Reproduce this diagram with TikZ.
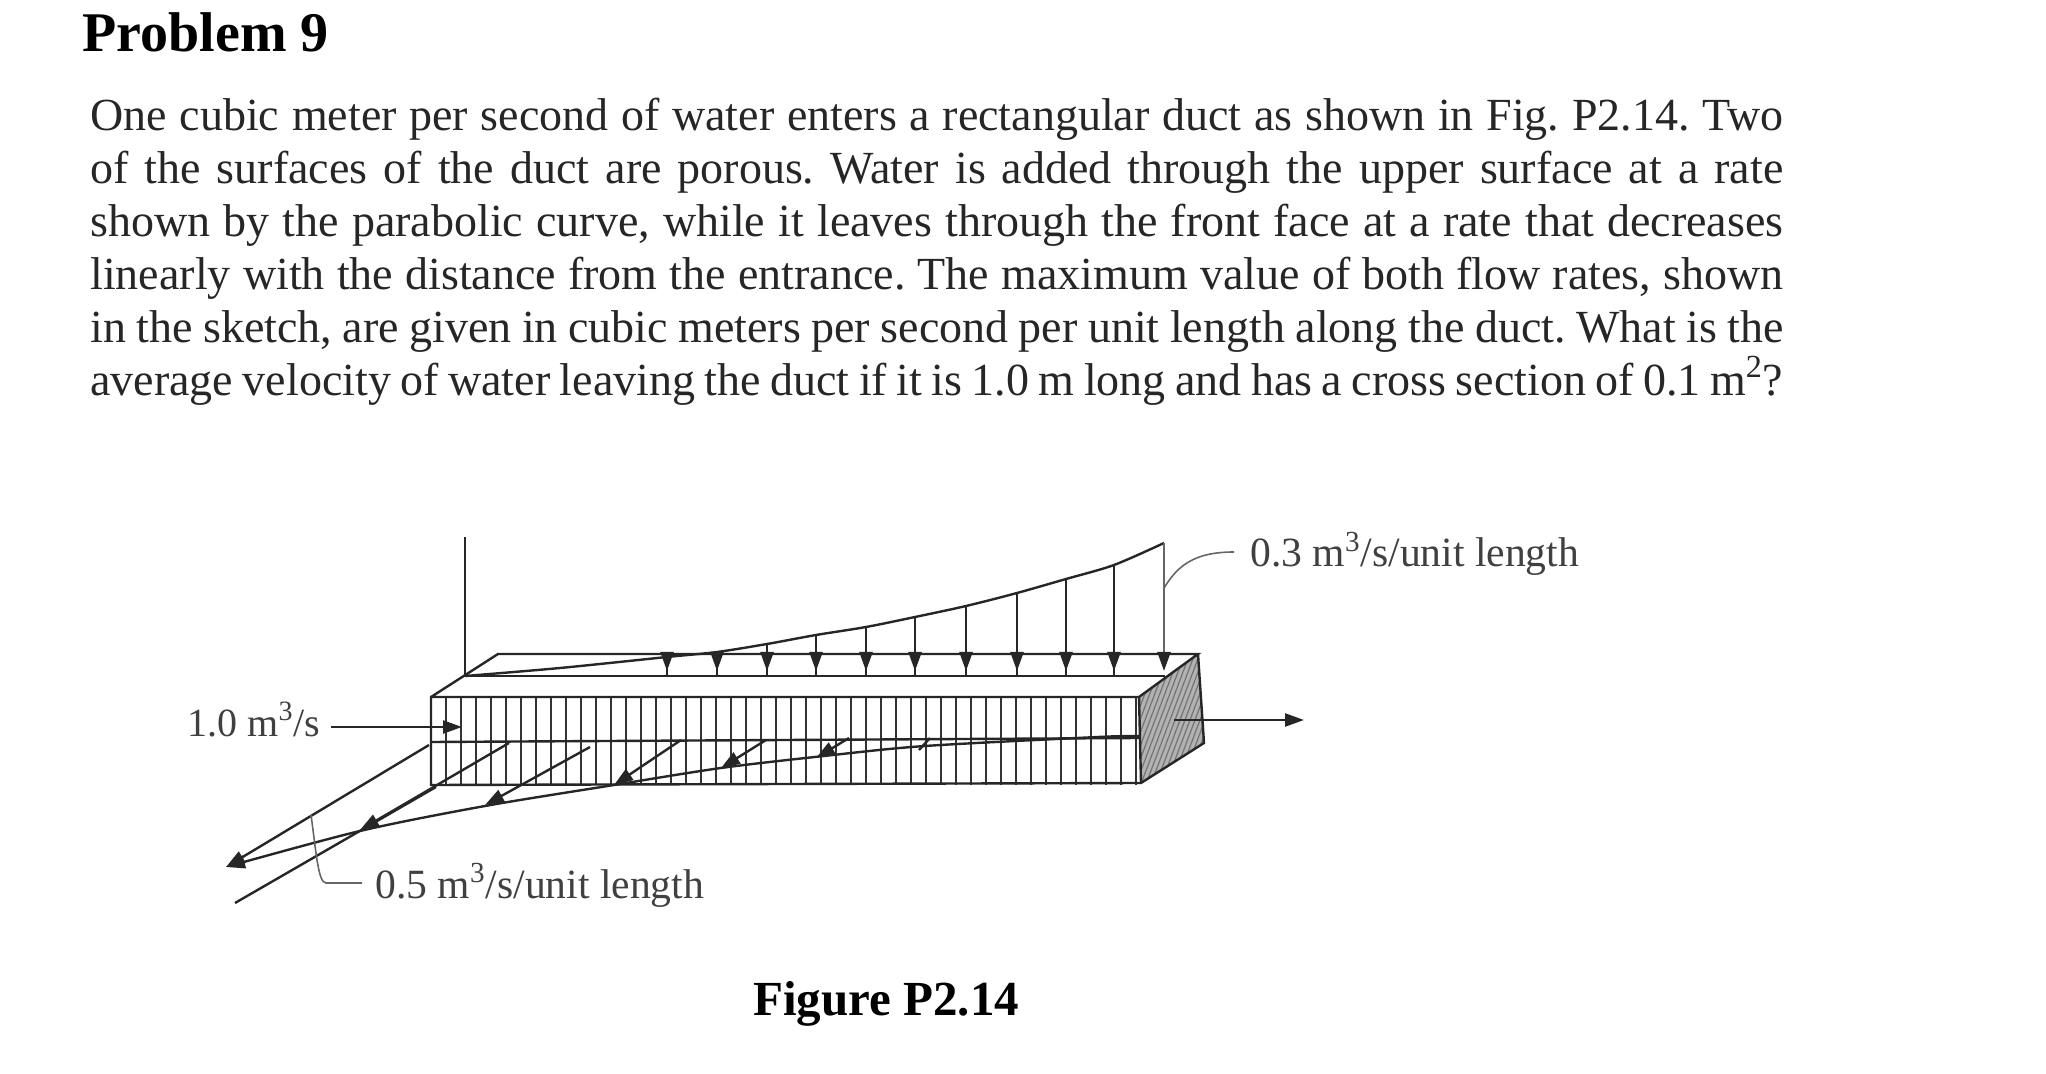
\documentclass[tikz,border=0pt]{standalone}
\usepackage{fontspec}
\setmainfont{Liberation Serif}
\usetikzlibrary{arrows.meta}
\frenchspacing
\newcommand{\paraline}[1]{\makebox[846.5pt][s]{#1}}
\tikzset{
  textline/.style={anchor=base west, inner sep=0pt, text=black!85, font=\fontsize{23}{26}\selectfont},
  figlabel/.style={anchor=base west, inner sep=0pt, text=black!75, font=\fontsize{20.8}{24}\selectfont},
  headline/.style={anchor=base west, inner sep=0pt, font=\bfseries\fontsize{28}{32}\selectfont},
  ductline/.style={draw=black!85, line width=1.2pt},
  hatchline/.style={draw=black!80, line width=1pt},
  flowarrow/.style={ductline, -{Stealth[length=9.5pt,width=6.5pt,inset=0pt]}},
  leaderline/.style={draw=black!60, line width=0.8pt}
}
\begin{document}
\begin{tikzpicture}[x=0.5pt, y=-0.5pt]
  \useasboundingbox (0,0) rectangle (2046,1074);
  \node (title)[headline] at (82,52) {Problem 9};
  \node (l1)[textline] at (90,131) {\paraline{One cubic meter per second of water enters a rectangular duct as shown in Fig. P2.14. Two}};
  \node (l2)[textline] at (90,184) {\paraline{of the surfaces of the duct are porous. Water is added through the upper surface at a rate}};
  \node (l3)[textline] at (90,237) {\paraline{shown by the parabolic curve, while it leaves through the front face at a rate that decreases}};
  \node (l4)[textline] at (90,290) {\paraline{linearly with the distance from the entrance. The maximum value of both flow rates, shown}};
  \node (l5)[textline] at (90,343) {\paraline{in the sketch, are given in cubic meters per second per unit length along the duct. What is the}};
  \node (l6)[textline] at (90,396) {\paraline{average velocity of water leaving the duct if it is 1.0 m long and has a cross section of 0.1 m\textsuperscript{2}?}};

  \coordinate (ftl) at (431,697);
  \coordinate (fbl) at (431,785);
  \coordinate (ftr) at (1139,697);
  \coordinate (fbr) at (1141,783);
  \coordinate (btl) at (498,654);
  \coordinate (btr) at (1198,654);
  \coordinate (bbr) at (1204,743);
  \coordinate (itl) at (465,676);
  \coordinate (itr) at (1165,676);
  \coordinate (ptop) at (465,537);
  \coordinate (midl) at (431,742);
  \coordinate (midr) at (1139,738);

  \foreach \hx in {431,446,...,1139}
    \draw[hatchline] (\hx,697) -- (\hx,785);
  \begin{scope}
    \clip (ftr) -- (btr) -- (bbr) -- (fbr) -- cycle;
    \fill[black!30] (ftr) -- (btr) -- (bbr) -- (fbr) -- cycle;
    \foreach \hd in {0,5,...,180}
      \draw[black!55, line width=0.6pt] (1130+\hd,640) -- (1130+\hd-60,800);
  \end{scope}
  \draw[ductline] (ptop) -- (itl) -- (itr);
  \draw[ductline] (ftl) -- (btl) -- (btr) -- (ftr) -- (ftl) -- (fbl) -- (fbr) -- (bbr) -- (btr);
  \draw[ductline] (ftr) -- (fbr);
  \draw[ductline] (midl) -- (midr);

  \draw[ductline] plot[smooth] coordinates {(itl) (560,668) (667,657) (717,652) (767,644) (816,635) (866,627) (915,617)
    (966,606) (1017,593) (1066,579) (1114,565) (1164,543)};
  \foreach \ax/\ay in {667/657,717/652,767/644,816/635,866/627,915/617,966/606,1017/593,1066/579,1114/565}
    {
      \draw[ductline] (\ax,\ay) -- (\ax,676);
      \draw[flowarrow] (\ax,\ay) -- (\ax,671);
    }
  \draw[leaderline] (1164,543) -- (1164,654);
  \draw[flowarrow] (1164,654) -- (1164,671);

  \coordinate (tipa) at (226,867);
  \draw[flowarrow] (429,745) -- (tipa);
  \draw[ductline] (436,787) -- (235,903);
  \draw[flowarrow] plot[smooth] coordinates {(1139,736) (1098,737) (925,746) (824,756) (721,768) (614,785) (485,806) (360,831) (tipa)};
  \foreach \sx/\sy/\ex/\ey in {509/743/360/830, 590/747/485/805, 681/740/614/785, 766/740/721/768, 849/738/816/758}
    \draw[flowarrow] (\sx,\sy) -- (\ex,\ey);
  \draw[ductline] (930,738) -- (919,750);

  \node (rin)[figlabel, font=\fontsize{20}{24}\selectfont] at (187,736) {1.0 m\textsuperscript{3}/s};
  \node (rlow)[figlabel] at (375,898) {0.5 m\textsuperscript{3}/s/unit length};
  \node (rtop)[figlabel] at (1250,567) {0.3 m\textsuperscript{3}/s/unit length};
  \node (fig)[headline, font=\bfseries\fontsize{24.5}{28}\selectfont] at (753,1015) {Figure P2.14};

  \coordinate (inflow) at (462,727);
  \draw[flowarrow] (331,727) -- (inflow);
  \coordinate (outstart) at (1174,720);
  \coordinate (outflow) at (1304,720);
  \draw[flowarrow] (outstart) -- (outflow);
  \draw[leaderline] (311,815) .. controls (316,850) and (318,883) .. (326,883) -- (362,883);
  \draw[leaderline] (1164,588) .. controls (1178,565) and (1195,552) .. (1234,552);
\end{tikzpicture}
\end{document}
